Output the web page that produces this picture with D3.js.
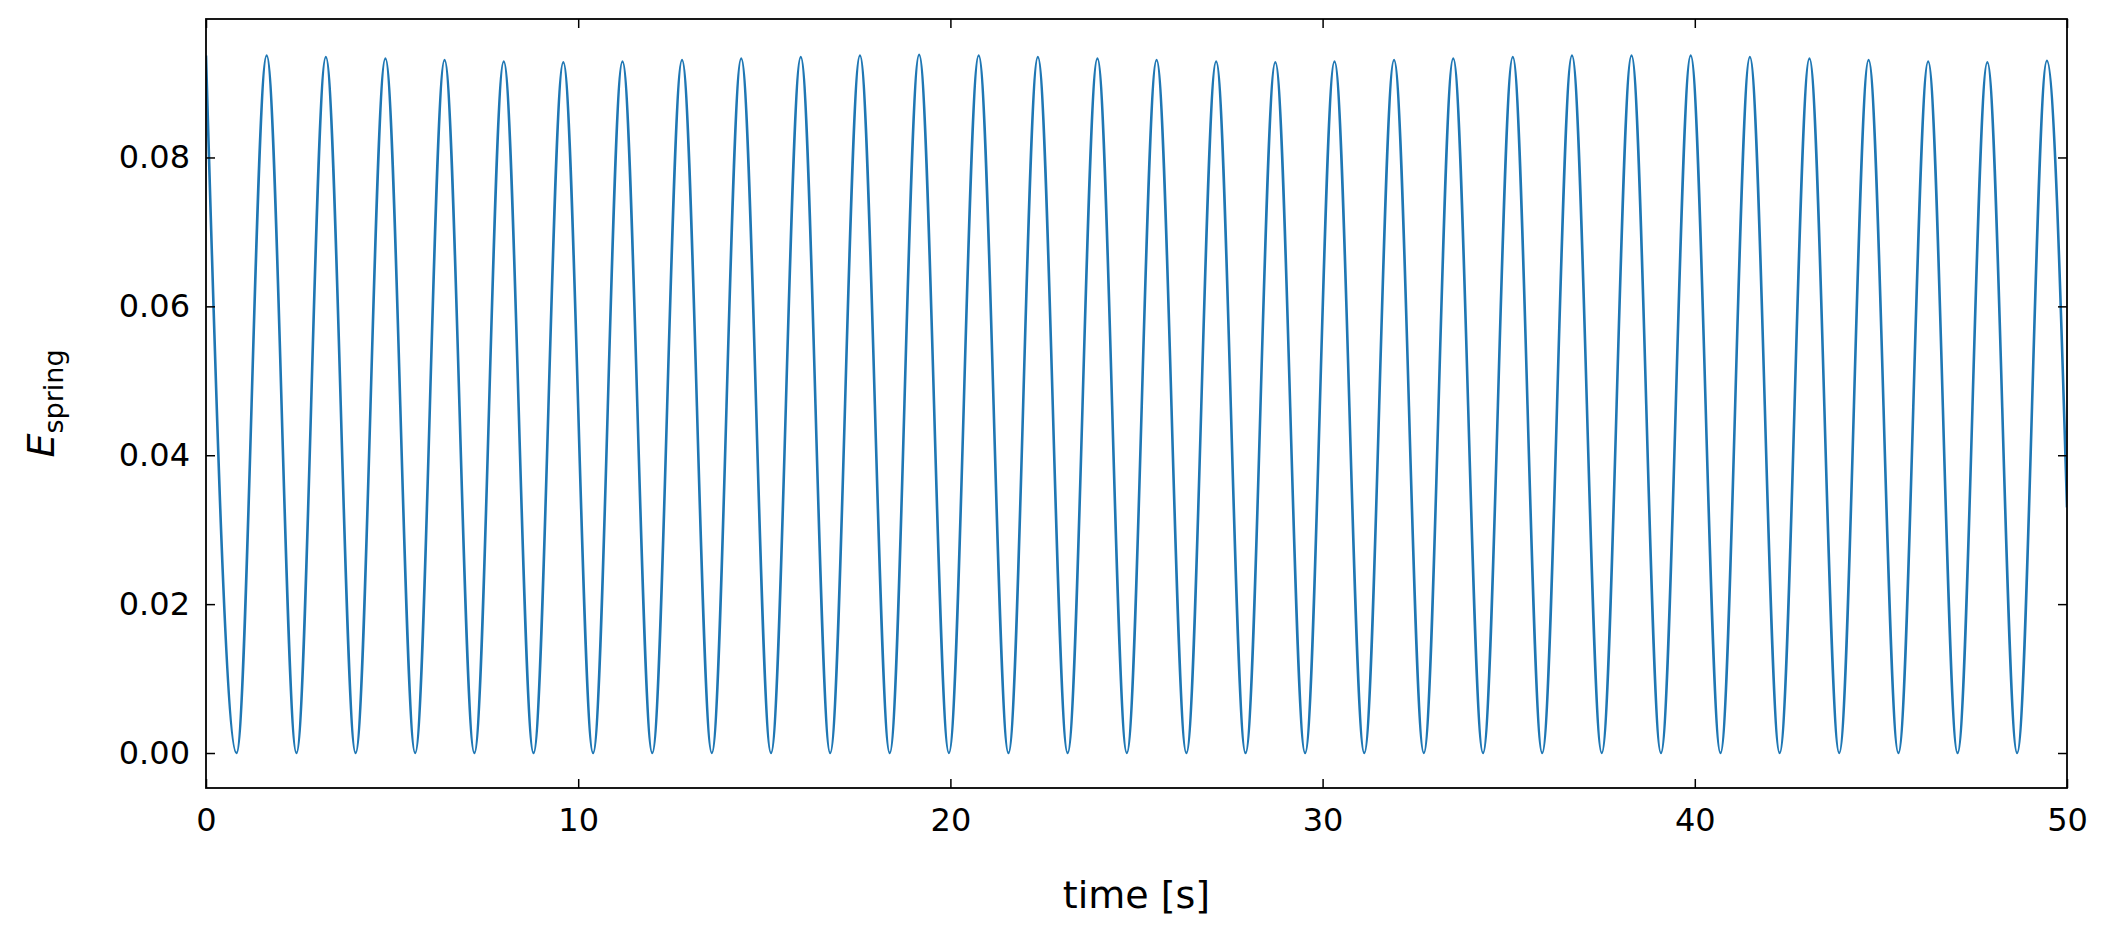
<!DOCTYPE html>
<html><head><meta charset="utf-8">
<script src="https://cdn.jsdelivr.net/npm/d3@7"></script>
<style>body{margin:0;background:#fff}text{font-family:"DejaVu Sans",sans-serif}</style>
</head><body><svg id="c" width="2111" height="939"></svg>
<script>
const peakTimes=[0,1.63,3.22,4.82,6.41,8.00,9.60,11.19,12.79,14.38,15.98,17.57,19.16,20.76,22.35,23.95,25.54,27.14,28.73,30.32,31.92,33.51,35.11,36.70,38.30,39.89,41.48,43.08,44.67,46.27,47.86,49.46];
const peakValues=[0.0937,0.0937,0.0935,0.0933,0.0931,0.0929,0.0928,0.0929,0.0931,0.0933,0.0935,0.0937,0.0938,0.0937,0.0935,0.0933,0.0931,0.0929,0.0928,0.0929,0.0931,0.0933,0.0935,0.0937,0.0937,0.0937,0.0935,0.0933,0.0931,0.0929,0.0928,0.0930];
const troughTimes=[0.82,2.43,4.02,5.62,7.21,8.80,10.40,11.99,13.59,15.18,16.77,18.37,19.96,21.56,23.15,24.74,26.34,27.93,29.53,31.12,32.72,34.31,35.90,37.50,39.09,40.69,42.28,43.88,45.47,47.06,48.66];
const troughValues=troughTimes.map(()=>0);
const endPoint=[50,0.033];
const xTicks=[0,10,20,30,40,50];
const yTicks=[0,0.02,0.04,0.06,0.08];

const L=206,R=2067,T=19,B=788;
const svg=d3.select("#c");
const x=d3.scaleLinear().domain([0,50]).range([L,R]);
const y=d3.scaleLinear().domain([-0.0047,0.0986]).range([B,T]);
let pts=peakTimes.map((t,i)=>[t,peakValues[i]]).concat(troughTimes.map((t,i)=>[t,troughValues[i]]));
pts.push(endPoint);
pts.sort((a,b)=>a[0]-b[0]);
svg.append("defs").append("clipPath").attr("id","cp").append("rect").attr("x",L).attr("y",T).attr("width",R-L).attr("height",B-T);
svg.append("path").datum(pts).attr("clip-path","url(#cp)").attr("fill","none").attr("stroke","#1f77b4").attr("stroke-width",2.6)
 .attr("d",d3.line().x(d=>x(d[0])).y(d=>y(d[1])).curve(d3.curveMonotoneX));
const fs=32;
const ax=(g,a)=>g.call(a).call(g=>g.select(".domain").remove()).call(g=>g.selectAll("line").attr("stroke","#000").attr("stroke-width",1.5));
ax(svg.append("g").attr("transform",`translate(0,${B})`),d3.axisBottom(x).tickValues(xTicks).tickSizeInner(-9).tickPadding(20).tickFormat(d3.format("d")))
 .selectAll("text").attr("font-size",fs).attr("fill","#000");
ax(svg.append("g").attr("transform",`translate(0,${T})`),d3.axisTop(x).tickValues(xTicks).tickSizeInner(-9).tickFormat(""));
ax(svg.append("g").attr("transform",`translate(${L},0)`),d3.axisLeft(y).tickValues(yTicks).tickSizeInner(-9).tickPadding(16).tickFormat(d3.format(".2f")))
 .selectAll("text").attr("font-size",fs).attr("fill","#000");
ax(svg.append("g").attr("transform",`translate(${R},0)`),d3.axisRight(y).tickValues(yTicks).tickSizeInner(-9).tickFormat(""));
svg.append("rect").attr("x",L).attr("y",T).attr("width",R-L).attr("height",B-T).attr("fill","none").attr("stroke","#000").attr("stroke-width",1.8);
svg.append("text").attr("x",(L+R)/2).attr("y",908).attr("text-anchor","middle").attr("font-size",38).text("time [s]");
const yl=svg.append("text").attr("transform",`translate(54,${(T+B)/2}) rotate(-90)`).attr("text-anchor","middle").attr("font-size",38);
yl.append("tspan").attr("font-style","italic").text("E");
yl.append("tspan").attr("font-size",27).attr("dy",9).text("spring");
</script></body></html>
